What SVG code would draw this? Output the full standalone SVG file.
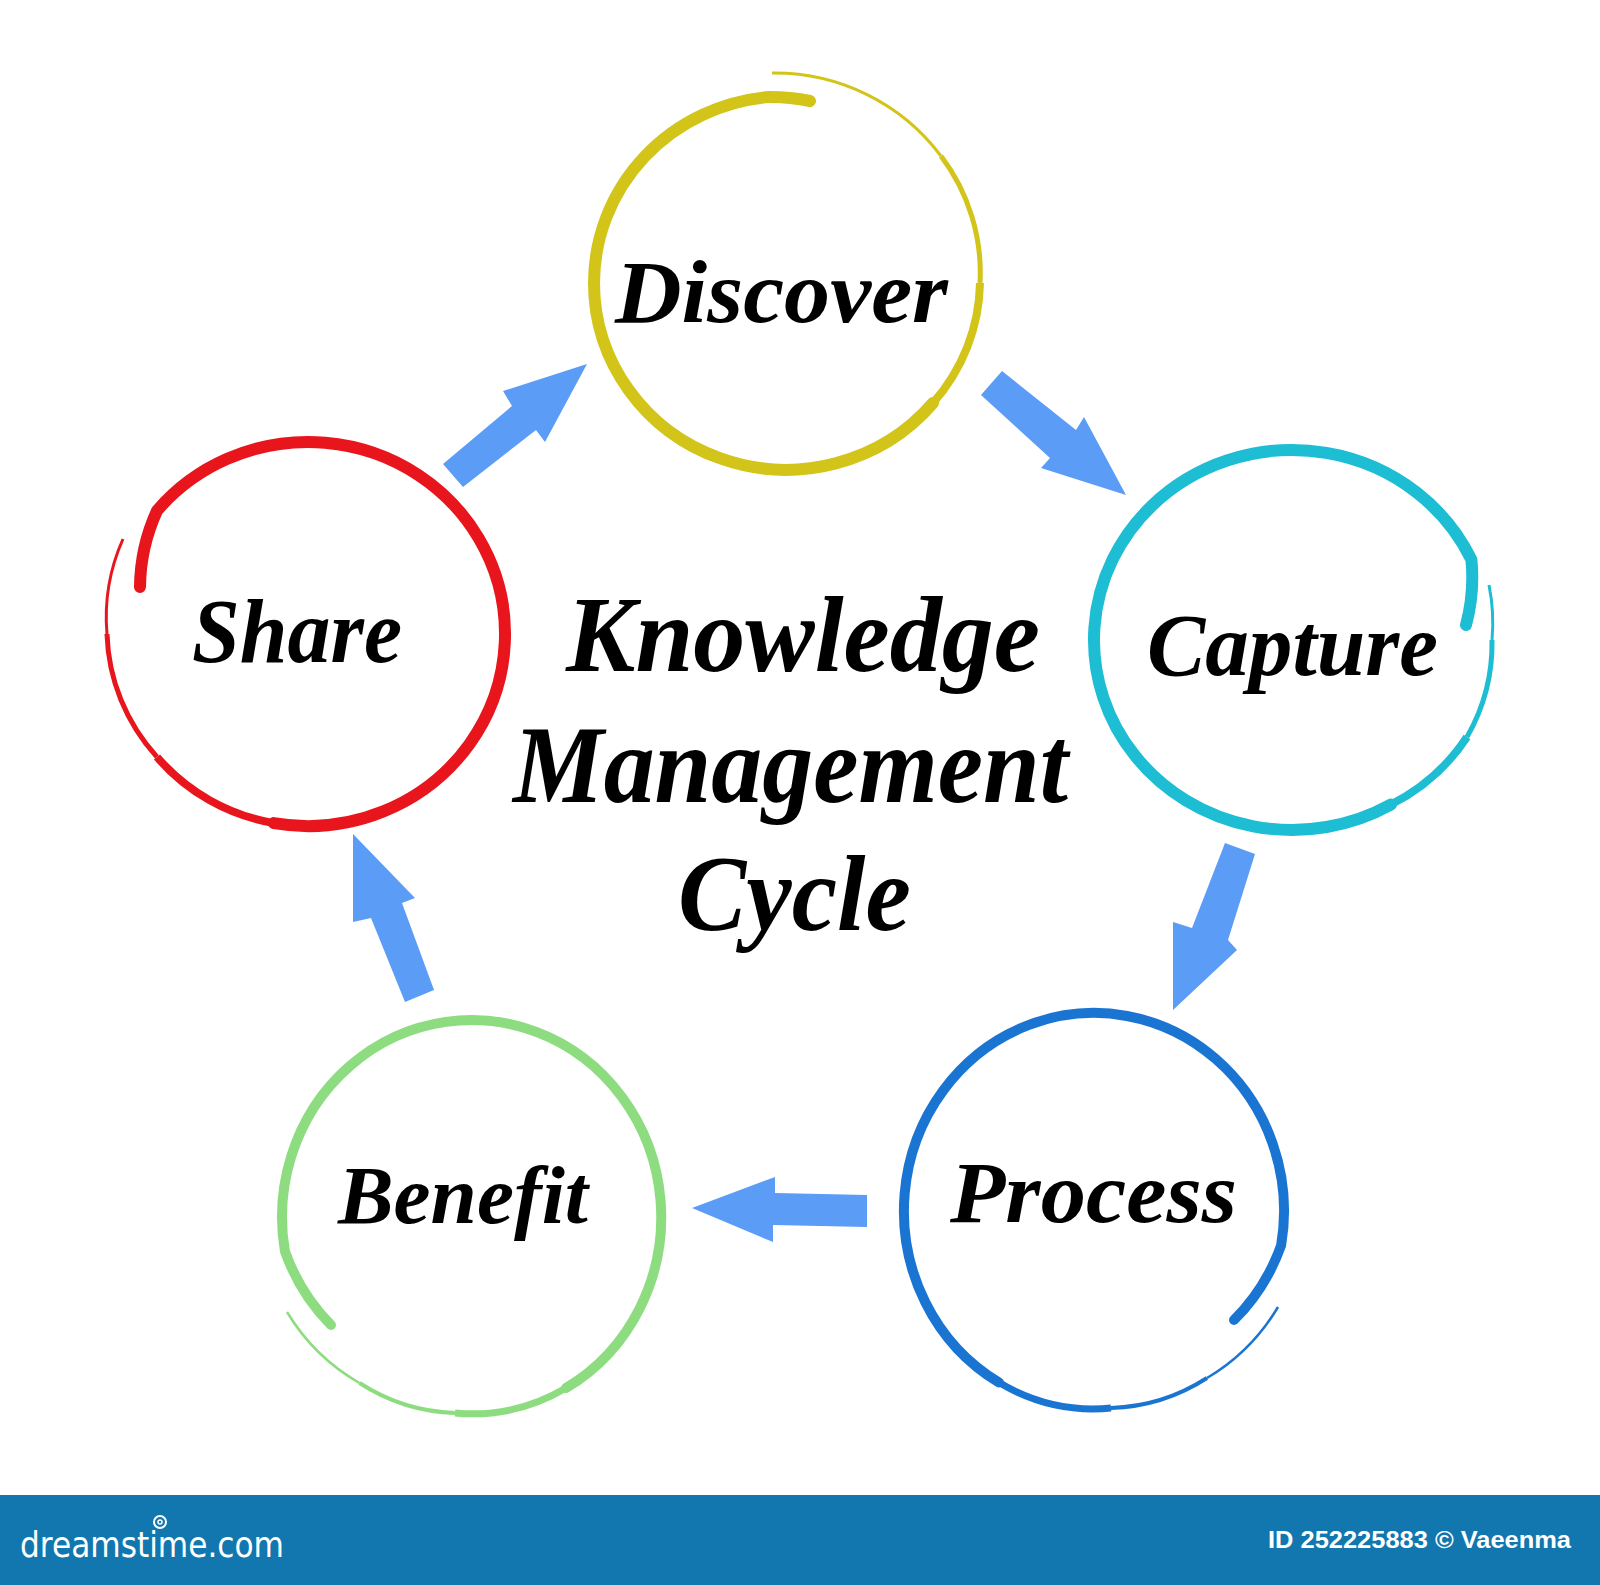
<svg xmlns="http://www.w3.org/2000/svg" width="1600" height="1585" viewBox="0 0 1600 1585">
<style>
.ring{fill:none;stroke-linecap:butt;stroke-linejoin:round}
.ring .lead{stroke-linecap:round}
.lbl{font-family:"Liberation Serif","Times New Roman",serif;font-weight:bold;font-style:italic;fill:#000}
.arrow{fill:#5b9cf6}
</style>
<rect x="0" y="0" width="1600" height="1585" fill="#ffffff"/>

<g id="node-discover">
<g class="ring" stroke="#d3c41a">
<path class="lead" stroke-width="12" d="M810,101 A192,187 0 0 0 769,97 A192,187 0 0 0 594,283 A192,187 0 0 0 933,403"/>
<path stroke-width="8" d="M933,403 A194,189 0 0 0 980,283"/>
<path stroke-width="5" d="M980,283 A200,196 0 0 0 941,156"/>
<path stroke-width="3" d="M941,156 A207,205 0 0 0 772,73"/>
</g>
<text class="lbl" x="615" y="322" font-size="89" textLength="333" lengthAdjust="spacingAndGlyphs">Discover</text>
</g>

<g id="node-capture">
<g class="ring" stroke="#1dbdd3">
<path class="lead" stroke-width="12" d="M1466,625 A198,190 0 0 0 1471.4,559.7 A198,190 0 0 0 1152,505.6 A198,190 0 0 0 1391,804.5"/>
<path stroke-width="8" d="M1391,804.5 A200,192 0 0 0 1467,737"/>
<path stroke-width="5" d="M1467,737 A202,194 0 0 0 1492,640"/>
<path stroke-width="3" d="M1492,640 A204,197 0 0 0 1489,585"/>
</g>
<text class="lbl" x="1147" y="675" font-size="88" textLength="291" lengthAdjust="spacingAndGlyphs">Capture</text>
</g>

<g id="node-process">
<g class="ring" stroke="#1a75d2">
<path class="lead" stroke-width="10" d="M1234,1320 A190,198 0 0 0 1281.1,1245.4 A190,198 0 0 0 1029,1024.9 A190,198 0 0 0 999,1382.5"/>
<path stroke-width="7" d="M999,1382.5 A190,198 0 0 0 1111,1408"/>
<path stroke-width="4" d="M1111,1408 A194,202 0 0 0 1207,1378"/>
<path stroke-width="2.5" d="M1207,1378 A200,206 0 0 0 1278,1307"/>
</g>
<text class="lbl" x="950" y="1222" font-size="86" textLength="287" lengthAdjust="spacingAndGlyphs">Process</text>
</g>

<g id="node-benefit">
<g class="ring" stroke="#8ddc80">
<path class="lead" stroke-width="10" d="M331,1325 A189.5,197 0 0 1 284.9,1251.2 A189.5,197 0 0 1 536.3,1031.9 A189.5,197 0 0 1 566,1388"/>
<path stroke-width="7" d="M566,1388 A189.5,197 0 0 1 455,1413"/>
<path stroke-width="4" d="M455,1413 A193,201 0 0 1 359.5,1383"/>
<path stroke-width="2.5" d="M359.5,1383 A199,205 0 0 1 287,1312"/>
</g>
<text class="lbl" x="338" y="1223" font-size="82" textLength="250" lengthAdjust="spacingAndGlyphs">Benefit</text>
</g>

<g id="node-share">
<g class="ring" stroke="#e8151d">
<path class="lead" stroke-width="12" d="M140,587 A197,192 0 0 1 157.1,510.6 A197,192 0 0 1 478.6,538 A197,192 0 0 1 273.8,823.1"/>
<path stroke-width="8" d="M273.8,823.1 A197,192 0 0 1 157,757"/>
<path stroke-width="5" d="M157,757 A199,194 0 0 1 107,634"/>
<path stroke-width="3" d="M107,634 A203,197 0 0 1 123,539"/>
</g>
<text class="lbl" x="192" y="662" font-size="90" textLength="210" lengthAdjust="spacingAndGlyphs">Share</text>
</g>

<g id="node-title">
<text class="lbl" x="566" y="671" font-size="108" textLength="474" lengthAdjust="spacingAndGlyphs">Knowledge</text>
<text class="lbl" x="513" y="802" font-size="110" textLength="555" lengthAdjust="spacingAndGlyphs">Management</text>
<text class="lbl" x="678" y="930" font-size="108" textLength="233" lengthAdjust="spacingAndGlyphs">Cycle</text>
</g>

<g id="connectors">
<polygon class="arrow" points="443,464 512,406 503,391 587,364 545,442 536,430 463,487"/>
<polygon class="arrow" points="1002,371 1076,430 1084,417 1126,495 1041,468 1050,458 981,395"/>
<polygon class="arrow" points="1225,843 1255,854 1228,940 1237,950 1173,1010 1173,922 1192,928"/>
<polygon class="arrow" points="692,1208 775,1177 775,1193 867,1195 867,1227 773,1225 773,1242"/>
<polygon class="arrow" points="353,834 415,898 402,903 434,990 405,1002 371,918 353,922"/>
</g>

<g id="footer">
<rect x="0" y="1495" width="1600" height="90" fill="#1177ae"/>
<circle cx="160" cy="1522" r="6" fill="none" stroke="#ffffff" stroke-width="2"/>
<circle cx="160" cy="1522" r="2" fill="none" stroke="#ffffff" stroke-width="1.5"/>
<text x="20" y="1557" font-family="'DejaVu Sans',sans-serif" font-size="36" fill="#ffffff" textLength="264" lengthAdjust="spacingAndGlyphs">dreamstime.com</text>
<text x="1268" y="1548" font-family="'Liberation Sans',Arial,sans-serif" font-weight="bold" font-size="23" fill="#ffffff" textLength="303" lengthAdjust="spacingAndGlyphs">ID 252225883 © Vaeenma</text>
</g>
</svg>
